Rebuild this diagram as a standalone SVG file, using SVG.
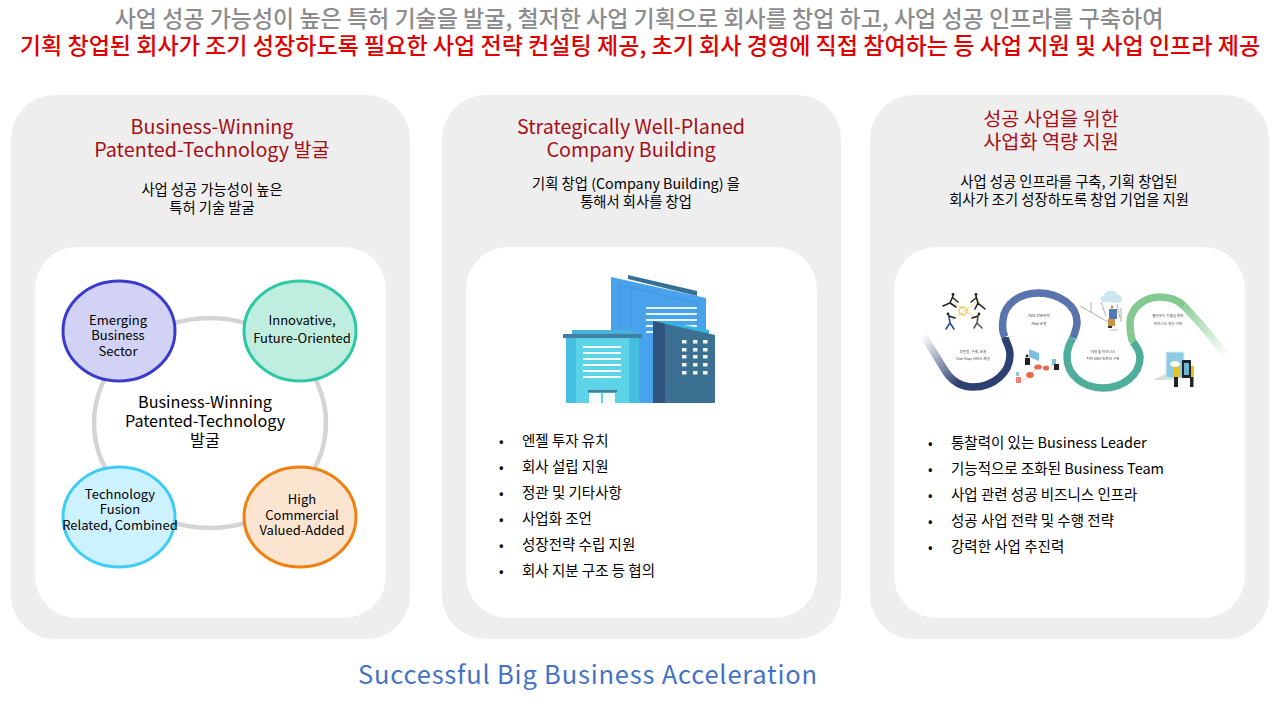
<svg xmlns="http://www.w3.org/2000/svg" width="1280" height="708" viewBox="0 0 1280 708">
<defs>
<style>
text{font-family:"Noto Sans CJK KR","Noto Sans",sans-serif;text-anchor:middle;fill:#000}
.h{font-size:19.7px;fill:#a50f15}
.d{font-size:14.3px}
.c{font-size:13px}
.m{font-size:16.2px}
.l{font-size:14.5px;text-anchor:start}
.b{font-size:13.5px;text-anchor:start}
.p{fill:#eeeeee}
.w{fill:#ffffff}
.t{font-size:3.6px;fill:#444}
.r{fill:none;stroke-width:7.5}
.k{fill:none;stroke:#222;stroke-width:1.6;stroke-linecap:round}
</style>
<linearGradient id="g1" gradientUnits="userSpaceOnUse" x1="923" y1="335" x2="975" y2="388"><stop offset="0" stop-color="#3f4a7c" stop-opacity="0"/><stop offset="0.8" stop-color="#2f3f72"/></linearGradient>
<linearGradient id="g2" gradientUnits="userSpaceOnUse" x1="1180" y1="300" x2="1226" y2="358"><stop offset="0" stop-color="#84c98f"/><stop offset="1" stop-color="#84c98f" stop-opacity="0"/></linearGradient>
<filter id="soft" x="-5%" y="-5%" width="110%" height="110%"><feGaussianBlur stdDeviation="0.35"/></filter>
</defs>
<g id="headline">
<text x="639" y="27" font-size="23" style="fill:#8c8c8c;font-weight:500">사업 성공 가능성이 높은 특허 기술을 발굴, 철저한 사업 기획으로 회사를 창업 하고, 사업 성공 인프라를 구축하여</text>
<text x="640" y="54" font-size="23.07" style="fill:#e00000;font-weight:500">기획 창업된 회사가 조기 성장하도록 필요한 사업 전략 컨설팅 제공, 초기 회사 경영에 직접 참여하는 등 사업 지원 및 사업 인프라 제공</text>
</g>
<g id="panel-1">
<rect class="p" x="11" y="95" width="399" height="544" rx="44"/>
<rect class="w" x="35" y="247" width="351" height="371" rx="42"/>
<text class="h" x="212" y="134">Business-Winning</text>
<text class="h" x="212" y="157">Patented-Technology 발굴</text>
<text class="d" x="212" y="195">사업 성공 가능성이 높은</text>
<text class="d" x="212" y="213">특허 기술 발굴</text>
</g>
<g id="panel-2">
<rect class="p" x="442" y="95" width="399" height="544" rx="44"/>
<rect class="w" x="466" y="247" width="351" height="371" rx="42"/>
<text class="h" x="631" y="134">Strategically Well-Planed</text>
<text class="h" x="631" y="157">Company Building</text>
<text class="d" x="636" y="189">기획 창업 (Company Building) 을</text>
<text class="d" x="636" y="207">통해서 회사를 창업</text>
</g>
<g id="panel-3">
<rect class="p" x="870" y="95" width="399" height="544" rx="44"/>
<rect class="w" x="894" y="247" width="351" height="371" rx="42"/>
<text class="h" x="1051" y="126">성공 사업을 위한</text>
<text class="h" x="1051" y="149">사업화 역량 지원</text>
<text class="d" x="1069" y="187">사업 성공 인프라를 구축, 기획 창업된</text>
<text class="d" x="1069" y="205">회사가 조기 성장하도록 창업 기업을 지원</text>
</g>
<g id="connectors">
<ellipse cx="210" cy="423" rx="116" ry="105" fill="none" stroke="#d4d4d4" stroke-width="4.5"/>
</g>
<g id="center-label">
<text class="m" x="205" y="408">Business-Winning</text>
<text class="m" x="205" y="427">Patented-Technology</text>
<text class="m" x="205" y="446">발굴</text>
</g>
<g id="node-emerging">
<ellipse cx="119" cy="331" rx="56" ry="50" fill="#d2d2f4" stroke="#3a3acb" stroke-width="3"/>
<text class="c" x="118" y="325">Emerging</text><text class="c" x="118" y="340">Business</text><text class="c" x="118" y="356">Sector</text>
</g>
<g id="node-innovative">
<ellipse cx="300" cy="331" rx="56" ry="50" fill="#bfeee1" stroke="#2dc9a5" stroke-width="3"/>
<text class="c" x="302" y="325">Innovative,</text><text class="c" x="302" y="343">Future-Oriented</text>
</g>
<g id="node-technology">
<ellipse cx="119" cy="517" rx="56" ry="50" fill="#cdf2ff" stroke="#3fcdf5" stroke-width="3"/>
<text class="c" x="120" y="499">Technology</text><text class="c" x="120" y="514">Fusion</text><text class="c" x="120" y="530">Related, Combined</text>
</g>
<g id="node-commercial">
<ellipse cx="300" cy="517" rx="56" ry="50" fill="#fbe4d0" stroke="#f08010" stroke-width="3"/>
<text class="c" x="302" y="504">High</text><text class="c" x="302" y="520">Commercial</text><text class="c" x="302" y="535">Valued-Added</text>
</g>
<g id="building" filter="url(#soft)">
<polygon points="611,277 706,298 706,403 611,403" fill="#4aa2ec"/>
<polygon points="628,275 697,291 697,296 628,279" fill="#356f97"/>
<path d="M620,283V403M631,286V403M620,285L697,303V325" fill="none" stroke="#4392de" stroke-width="1"/>
<g fill="#e8f4fd"><rect x="646" y="307" width="51" height="2"/><rect x="646" y="313" width="51" height="2"/><rect x="646" y="319" width="51" height="2"/><rect x="646" y="325" width="51" height="2"/><rect x="646" y="331" width="51" height="2"/></g>
<polygon points="664,321 709,330 709,334 664,325" fill="#35b5e2"/>
<rect x="566" y="338" width="73" height="65" fill="#45bfe0"/>
<rect x="576" y="338" width="53" height="65" fill="#5dd3e8"/>
<rect x="572" y="330" width="61" height="5" fill="#48b2d8"/>
<rect x="563" y="334" width="79" height="4" fill="#3f80a6"/>
<g fill="#f2fbfe"><rect x="583" y="346" width="38" height="2"/><rect x="583" y="352" width="38" height="2"/><rect x="583" y="358" width="38" height="2"/><rect x="583" y="364" width="38" height="2"/><rect x="583" y="370" width="38" height="2"/><rect x="583" y="376" width="38" height="2"/></g>
<rect x="588" y="390" width="29" height="2.5" fill="#3f7f9e"/>
<rect x="589" y="393" width="12" height="10" fill="#f4fbfe"/><rect x="603" y="393" width="12" height="10" fill="#f4fbfe"/>
<polygon points="653,321 715,335 715,403 653,403" fill="#3b6f93"/>
<polygon points="653,321 665,324 665,403 653,403" fill="#2f5580"/>
<g fill="#f2f6f9"><rect x="682" y="340" width="4.5" height="3.5"/><rect x="693" y="340" width="4.5" height="3.5"/><rect x="703" y="340" width="4.5" height="3.5"/><rect x="682" y="348" width="4.5" height="3.5"/><rect x="693" y="348" width="4.5" height="3.5"/><rect x="703" y="348" width="4.5" height="3.5"/><rect x="682" y="355" width="4.5" height="3.5"/><rect x="693" y="355" width="4.5" height="3.5"/><rect x="703" y="355" width="4.5" height="3.5"/><rect x="682" y="363" width="4.5" height="3.5"/><rect x="693" y="363" width="4.5" height="3.5"/><rect x="703" y="363" width="4.5" height="3.5"/><rect x="682" y="371" width="4.5" height="3.5"/><rect x="693" y="371" width="4.5" height="3.5"/><rect x="703" y="371" width="4.5" height="3.5"/></g>
</g>
<g id="list-2">
<text class="b" x="499" y="446">•</text><text class="l" x="522" y="446">엔젤 투자 유치</text>
<text class="b" x="499" y="472">•</text><text class="l" x="522" y="472">회사 설립 지원</text>
<text class="b" x="499" y="498">•</text><text class="l" x="522" y="498">정관 및 기타사항</text>
<text class="b" x="499" y="524">•</text><text class="l" x="522" y="524">사업화 조언</text>
<text class="b" x="499" y="550">•</text><text class="l" x="522" y="550">성장전략 수립 지원</text>
<text class="b" x="499" y="576">•</text><text class="l" x="522" y="576">회사 지분 구조 등 협의</text>
</g>
<g id="journey" filter="url(#soft)">
<path class="r" stroke="url(#g1)" d="M923,335L946,372C953,382 962,387 973,387C994,387 1010,372 1010,355C1010,346 1005,341 1005,337"/>
<path class="r" stroke="#5a74ad" d="M1005,337C1001,330 1003,322 1003,320C1004,304 1020,293 1038,293C1060,293 1077,306 1077,322C1077,328 1075,332 1073,338"/>
<path class="r" stroke="#4fae9b" d="M1073,338C1069,344 1067,350 1067,357C1067,375 1083,388 1103,388C1123,388 1140,375 1140,357C1140,351 1136,346 1133,342"/>
<path class="r" stroke="#84c98f" d="M1133,342C1130,336 1130,328 1130,322C1131,308 1144,297 1160,297C1170,297 1178,300 1184,306"/>
<path class="r" stroke="url(#g2)" d="M1184,306C1190,313 1208,330 1225,355"/>
<text class="t" x="973" y="353">전달망, 구축, 운영</text><text class="t" x="973" y="360">One-Stop 서비스 제공</text>
<text class="t" x="1039" y="317">AWS 전문인력</text><text class="t" x="1039" y="325">Pool 운영</text>
<text class="t" x="1103" y="353">비용 및 비즈니스</text><text class="t" x="1103" y="360">최적 AWS 인프라 구축</text>
<text class="t" x="1168" y="317">클라우드 기술을 통한</text><text class="t" x="1168" y="325">비즈니스 혁신 구현</text>
<path d="M953,302L979,320M977,302L952,320" fill="none" stroke="#ecd27e" stroke-width="0.9"/>
<circle cx="963" cy="311" r="4" fill="none" stroke="#e9c860" stroke-width="1.4"/>
<path class="k" d="M953,296L950,303L943,306M950,303L956,307M953,298L958,302"/>
<path class="k" d="M976,296L978,303L985,309M978,303L975,309M976,298L971,302"/>
<path class="k" style="stroke:#234a9a" d="M949,316L950,323L946,329M950,323L954,329"/>
<path class="k" d="M949,316L955,318"/>
<path class="k" style="stroke:#555" d="M978,316L977,323L974,328M977,323L982,328"/>
<path class="k" d="M978,316L972,318"/>
<g fill="#222"><circle cx="953" cy="294.5" r="1.4"/><circle cx="976" cy="294.5" r="1.4"/><circle cx="948" cy="314" r="1.4"/><circle cx="979" cy="314" r="1.4"/></g>
<path d="M1029,349L1039,353V361L1029,357z" fill="#7fc1dc"/>
<rect x="1025" y="358" width="5" height="7" fill="#222"/><circle cx="1027" cy="356" r="1.4" fill="#222"/>
<rect x="1052" y="359" width="4" height="6" fill="#7fc1dc"/><rect x="1054" y="364" width="5" height="6" fill="#222"/>
<rect x="1016" y="377" width="5" height="6" fill="#ef7f77"/><rect x="1016" y="372" width="3" height="4" fill="#8ecbe3"/>
<path d="M1021,382L1030,375L1038,367L1046,368L1053,365" fill="none" stroke="#f2b3a0" stroke-width="0.7"/>
<ellipse cx="1030" cy="375" rx="3.8" ry="3" fill="#e86a4a"/><ellipse cx="1038" cy="367" rx="3.8" ry="2.6" fill="#e86a4a"/><ellipse cx="1046" cy="368" rx="3" ry="2.6" fill="#e86a4a"/>
<path d="M1104,302c-5,-1 -5,-6 0,-6c1,-7 12,-7 14,-1c5,0 6,7 1,8z" fill="#cfe6ef"/>
<g fill="none" stroke="#777" stroke-width="0.6"><path d="M1080,306L1108,322M1091,302V312M1101,302L1106,316M1121,308V322M1117,304L1120,318"/></g>
<rect x="1109" y="309" width="8" height="10" fill="#4f79b8"/><circle cx="1112" cy="307" r="1.5" fill="#c89248"/><rect x="1108" y="319" width="7" height="7" fill="#c89248"/><rect x="1108" y="326" width="4" height="2" fill="#333"/>
<ellipse cx="1114" cy="330" rx="5" ry="1" fill="#ddd"/>
<polygon points="1153,380 1173,370 1173,380" fill="#dcdcdc"/>
<rect x="1166" y="352" width="18" height="26" fill="#8ecbe3" stroke="#d8eef6"/>
<ellipse cx="1175" cy="364" rx="5" ry="3" fill="#fff"/>
<rect x="1182" y="360" width="9" height="18" rx="1" fill="#222"/><rect x="1184" y="363" width="5" height="12" fill="#6fb5d0"/>
<rect x="1173" y="367" width="6" height="10" fill="#e8c11d"/><rect x="1174" y="377" width="4" height="10" fill="#222"/>
<rect x="1190" y="377" width="3.5" height="10" fill="#222"/><rect x="1191" y="366" width="3" height="11" fill="#e8c11d"/>
</g>
<g id="list-3">
<text class="b" x="928" y="448">•</text><text class="l" x="951" y="448">통찰력이 있는 Business Leader</text>
<text class="b" x="928" y="474">•</text><text class="l" x="951" y="474">기능적으로 조화된 Business Team</text>
<text class="b" x="928" y="500">•</text><text class="l" x="951" y="500">사업 관련 성공 비즈니스 인프라</text>
<text class="b" x="928" y="526">•</text><text class="l" x="951" y="526">성공 사업 전략 및 수행 전략</text>
<text class="b" x="928" y="552">•</text><text class="l" x="951" y="552">강력한 사업 추진력</text>
</g>
<g id="footer">
<text x="588" y="684" font-size="25.5" style="fill:#4472c4;letter-spacing:.8px">Successful Big Business Acceleration</text>
</g>
</svg>
